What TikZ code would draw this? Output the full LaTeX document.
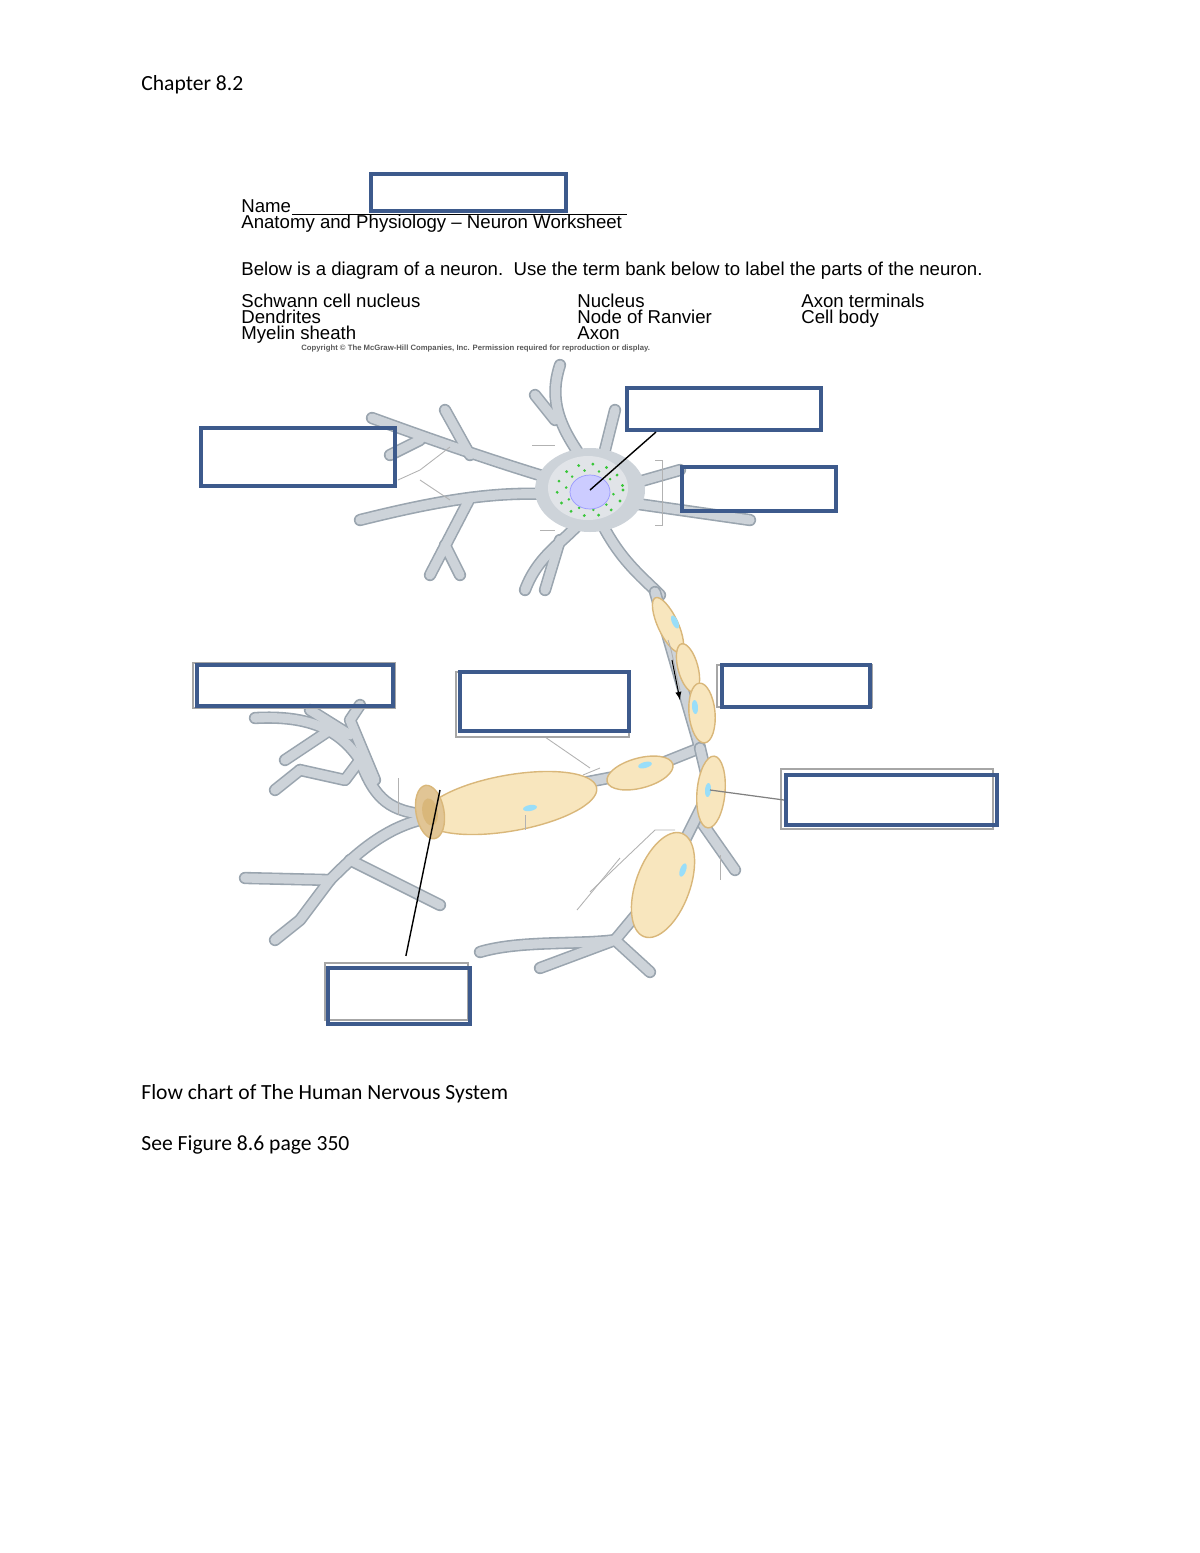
\documentclass[tikz,border=0pt]{standalone}
\usepackage{fontspec}
\setmainfont{Liberation Sans}
\newfontfamily\calibrifont{Carlito}
\begin{document}
\begin{tikzpicture}[x=0.02cm,y=-0.02cm,
  bx/.style={draw=boxblue,line width=2.4pt},
  fr/.style={draw=gray!70,line width=0.6pt},
  ws/.style={anchor=base west,inner sep=0pt,font=\fontsize{10.6pt}{11pt}\selectfont},
  ch/.style={anchor=base west,inner sep=0pt,font=\calibrifont\fontsize{12.3pt}{14pt}\selectfont},
  dout/.style={draw=dgo,line width=7pt,line cap=round,line join=round},
  din/.style={draw=dgi,line width=5.2pt,line cap=round,line join=round},
  my/.style={draw=myo,fill=myi,line width=0.8pt},
  br/.style={draw=gray!60,line width=0.5pt}]
\definecolor{boxblue}{HTML}{3D5A8C}
\definecolor{dgo}{HTML}{9AA5AF}
\definecolor{dgi}{HTML}{CDD3D9}
\definecolor{myo}{HTML}{D9B77A}
\definecolor{myi}{HTML}{F8E6BE}
\useasboundingbox (0,0) rectangle (1200,1553);
% texts
\node[ch] (t1) at (141,90) {Chapter 8.2};
\node[ch] (t2) at (141,1099) {Flow chart of The Human Nervous System};
\node[ch] (t3) at (141,1150) {See Figure 8.6 page 350};
\node[ws] (n1) at (241,212) {Name};
\draw[line width=0.4pt] (292,214) -- (627,214);
\node[ws] (n2) at (241,228) {Anatomy and Physiology -- Neuron Worksheet};
\node[ws] (n3) at (241,275) {Below is a diagram of a neuron.\ \ Use the term bank below to label the parts of the neuron.};
\node[ws] (a1) at (241,307) {Schwann cell nucleus};
\node[ws] (a2) at (241,323) {Dendrites};
\node[ws] (a3) at (241,339) {Myelin sheath};
\node[ws] (b1) at (577,307) {Nucleus};
\node[ws] (b2) at (577,323) {Node of Ranvier};
\node[ws] (b3) at (577,339) {Axon};
\node[ws] (c1) at (801,307) {Axon terminals};
\node[ws] (c2) at (801,323) {Cell body};
\node[anchor=base west,inner sep=0pt,font=\bfseries\fontsize{4.4pt}{5pt}\selectfont,text=gray!70!black] (cp) at (301,350) {Copyright \textcopyright\ The McGraw-Hill Companies, Inc. Permission required for reproduction or display.};
% dendrites of cell body
\foreach \s in {dout,din}{
\draw[\s] (590,490) .. controls (520,470) and (460,450) .. (372,418);
\draw[\s] (470,455) -- (445,410);
\draw[\s] (420,440) -- (390,455);
\draw[\s] (560,495) .. controls (500,490) and (440,500) .. (360,520);
\draw[\s] (470,498) -- (430,575);
\draw[\s] (445,545) -- (460,575);
\draw[\s] (590,470) .. controls (570,440) and (545,410) .. (560,365);
\draw[\s] (555,420) -- (535,395);
\draw[\s] (600,470) -- (615,410);
\draw[\s] (610,500) -- (750,520);
\draw[\s] (610,490) -- (680,470);
\draw[\s] (590,510) .. controls (570,540) and (540,550) .. (525,590);
\draw[\s] (560,540) -- (545,590);
\draw[\s] (600,520) .. controls (620,560) and (640,575) .. (660,595);
% left terminals
\draw[\s] (430,815) .. controls (390,812) and (375,800) .. (360,760);
\draw[\s] (360,760) .. controls (340,730) and (310,715) .. (255,718);
\draw[\s] (350,735) -- (310,710);
\draw[\s] (330,730) -- (285,760);
\draw[\s] (360,760) -- (345,780) -- (300,770);
\draw[\s] (375,780) -- (350,720) -- (360,705);
\draw[\s] (300,770) -- (275,790);
\draw[\s] (420,820) .. controls (380,830) and (350,860) .. (330,880);
\draw[\s] (330,880) -- (245,878);
\draw[\s] (330,880) -- (300,920) -- (275,940);
\draw[\s] (350,860) -- (440,905);
% bottom terminals
\draw[\s] (640,910) -- (615,940);
\draw[\s] (615,940) .. controls (580,945) and (520,940) .. (480,952);
\draw[\s] (615,940) -- (540,968);
\draw[\s] (615,940) -- (650,972);
\draw[\s] (700,820) -- (735,870);
}
\fill[dgi] (590,490) ellipse (55 and 42);
\fill[dgi!60!white] (588,488) ellipse (40 and 32);
\foreach \a in {0,25,...,350}
  \fill[green!55!gray] (590,490) ++(\a:33 and 26) circle (1.6);
\foreach \a in {12,47,...,350}
  \fill[green!55!gray] (590,490) ++(\a:24 and 20) circle (1.4);
\draw[blue!40,fill=blue!20] (590,492) ellipse (20 and 17);
% axon
\draw[dout] (655,592) -- (700,748) -- (640,772) -- (430,812);
\draw[din] (655,592) -- (700,748) -- (640,772) -- (430,812);
\draw[dout] (700,748) -- (710,790) -- (665,880);
\draw[din] (700,748) -- (710,790) -- (665,880);
% myelin segments
\draw[my] (668,625) ellipse [x radius=30,y radius=10,rotate=-65];
\draw[my] (688,668) ellipse [x radius=25,y radius=10,rotate=-75];
\draw[my] (702,713) ellipse [x radius=30,y radius=13,rotate=-85];
\draw[my] (640,773) ellipse [x radius=34,y radius=15,rotate=15];
\draw[my] (510,803) ellipse [x radius=88,y radius=28,rotate=10];
\draw[my,fill=myo!80] (430,812) ellipse [x radius=14,y radius=27,rotate=10];
\draw[my,fill=myo] (430,812) ellipse [x radius=7,y radius=13,rotate=10];
\draw[my] (711,792) ellipse [x radius=36,y radius=14,rotate=-95];
\draw[my] (663,885) ellipse [x radius=55,y radius=27,rotate=-110];
\foreach \p/\r in {{675,622}/-65,{695,707}/-85,{645,765}/15,{530,808}/10,{708,790}/-95,{683,870}/-110}
  \fill[cyan!40] (\p) ellipse [x radius=7,y radius=3,rotate=\r];
% brackets
\draw[br] (398,480) -- (420,470) -- (450,447);
\draw[br] (420,480) -- (450,500);
\draw[br] (655,460) -- (662,460) -- (662,525) -- (655,525);
\draw[br] (532,445) -- (555,445);
\draw[br] (540,530) -- (555,530);
\draw[br] (398,778) -- (398,815);
\draw[br] (525,815) -- (525,830);
\draw[br] (545,737) -- (590,768);
\draw[br] (583,775) -- (600,768);
\draw[br] (577,910) -- (620,858);
\draw[br] (590,892) -- (655,830) -- (675,830);
\draw[br] (720,855) -- (720,880);
\draw[br] (680,690) .. controls (675,670) and (672,650) .. (668,640);
\draw[-latex,line width=0.6pt] (672,660) -- (680,700);
% boxes
\draw[fr] (193,663) rectangle (395,708);
\draw[fr] (456,672) rectangle (629,737);
\draw[fr] (717,665) rectangle (872,707);
\draw[fr] (781,769) rectangle (993,829);
\draw[fr] (325,963) rectangle (468,1020);
\node[bx,minimum width=3.9cm,minimum height=0.74cm] (B0) at (468.5,192.5) {};
\node[bx,minimum width=3.88cm,minimum height=0.84cm] (B1) at (724,409) {};
\node[bx,minimum width=3.88cm,minimum height=1.16cm] (B2) at (298,457) {};
\node[bx,minimum width=3.08cm,minimum height=0.88cm] (B3) at (759,489) {};
\node[bx,minimum width=3.92cm,minimum height=0.82cm] (B4) at (295,685.5) {};
\node[bx,minimum width=3.38cm,minimum height=1.18cm] (B5) at (544.5,701.5) {};
\node[bx,minimum width=2.96cm,minimum height=0.84cm] (B6) at (796,686) {};
\node[bx,minimum width=4.22cm,minimum height=1.0cm] (B7) at (891.5,800) {};
\node[bx,minimum width=2.84cm,minimum height=1.12cm] (B8) at (399,996) {};
\coordinate (nuc) at (590,490);
\coordinate (cyl) at (440,790);
\draw[line width=0.8pt] (B1.south west) ++(31,0) -- (nuc);
\draw[line width=0.8pt] (B8.north west) ++(80,-10) -- (cyl);
\draw[gray,line width=0.7pt] (B7.west) -- (710,790);
\end{tikzpicture}
\end{document}
